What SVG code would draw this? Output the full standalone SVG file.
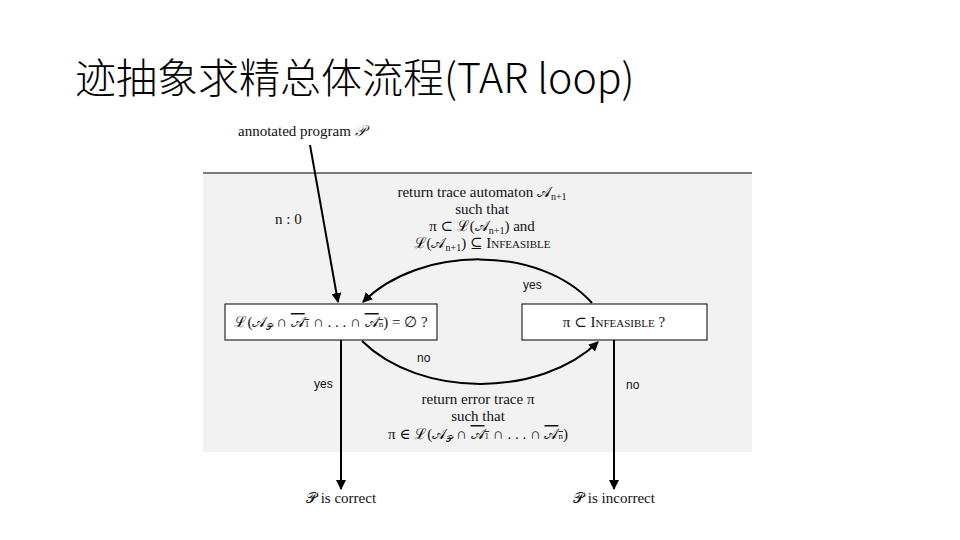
<svg xmlns="http://www.w3.org/2000/svg" width="960" height="540" viewBox="0 0 960 540">
<defs>
<marker id="ah" viewBox="0 0 10 10" refX="9" refY="5" markerWidth="5" markerHeight="5" orient="auto"><path d="M0,0 L10,5 L0,10 z" fill="#000"/></marker>
<style>
.m{font-family:"Liberation Serif","DejaVu Serif",serif;font-size:15px;fill:#111}
.s{font-family:"Liberation Sans",Arial,sans-serif;font-size:12px;fill:#111}
.sc{font-size:11px}
.ov{text-decoration:overline}
.c{fill:none;stroke:#000;stroke-width:2}
.box{fill:#fff;stroke:#000;stroke-width:1}
</style>
</defs>
<rect width="960" height="540" fill="#fff"/>
<text x="75" y="93" font-family="'Noto Sans CJK SC','Open Sans',sans-serif" font-size="41" font-weight="300" fill="#000">迹抽象求精总体流程(TAR loop)</text>
<rect x="203" y="173" width="549" height="279" fill="#f2f2f2"/>
<line x1="203" y1="173" x2="752" y2="173" stroke="#000" stroke-width="1"/>
<text class="m" x="238" y="136">annotated program <tspan font-style="italic">𝒫</tspan></text>
<text class="m" x="275" y="224">n :   0</text>
<g class="m" text-anchor="middle">
<text x="482" y="197">return trace automaton 𝒜<tspan font-size="10" dy="3">n+1</tspan></text>
<text x="482" y="214">such that</text>
<text x="482" y="231">π ⊂ ℒ(𝒜<tspan font-size="10" dy="3">n+1</tspan><tspan dy="-3">) and</tspan></text>
<text x="482" y="248">ℒ(𝒜<tspan font-size="10" dy="3">n+1</tspan><tspan dy="-3">) ⊆ I</tspan><tspan class="sc">NFEASIBLE</tspan></text>
<text x="478" y="404">return error trace π</text>
<text x="478" y="421">such that</text>
<text x="478" y="439">π ∈ ℒ(𝒜<tspan font-size="9" dy="3">𝒫</tspan><tspan dy="-3"> ∩ </tspan><tspan class="ov">𝒜<tspan font-size="9">1</tspan></tspan> ∩ . . . ∩ <tspan class="ov">𝒜<tspan font-size="9">n</tspan></tspan>)</text>
</g>
<g id="connectors">
<line class="c" x1="310" y1="145" x2="338" y2="302" marker-end="url(#ah)"/>
<path class="c" d="M592,303 C540,245 420,245 363,302" marker-end="url(#ah)"/>
<path class="c" d="M362,341 C420,398 540,398 598,342" marker-end="url(#ah)"/>
<line class="c" x1="341" y1="340" x2="341" y2="489" marker-end="url(#ah)"/>
<line class="c" x1="614" y1="340" x2="614" y2="489" marker-end="url(#ah)"/>
<text class="s" x="523" y="289">yes</text>
<text class="s" x="417" y="362">no</text>
<text class="s" x="314" y="388">yes</text>
<text class="s" x="626" y="389">no</text>
</g>
<g id="n1">
<rect class="box" x="225" y="304" width="212" height="36"/>
<text class="m" x="331" y="327" text-anchor="middle">ℒ(𝒜<tspan font-size="9" dy="3">𝒫</tspan><tspan dy="-3"> ∩ </tspan><tspan class="ov">𝒜<tspan font-size="9">1</tspan></tspan> ∩ . . . ∩ <tspan class="ov">𝒜<tspan font-size="9">n</tspan></tspan>) = ∅ ?</text>
</g>
<g id="n2">
<rect class="box" x="522" y="304" width="185" height="36"/>
<text class="m" x="614" y="327" text-anchor="middle">π ⊂ I<tspan class="sc">NFEASIBLE</tspan> ?</text>
</g>
<g id="out1"><text class="m" x="341" y="503" text-anchor="middle">𝒫 is correct</text></g>
<g id="out2"><text class="m" x="614" y="503" text-anchor="middle">𝒫 is incorrect</text></g>
</svg>
